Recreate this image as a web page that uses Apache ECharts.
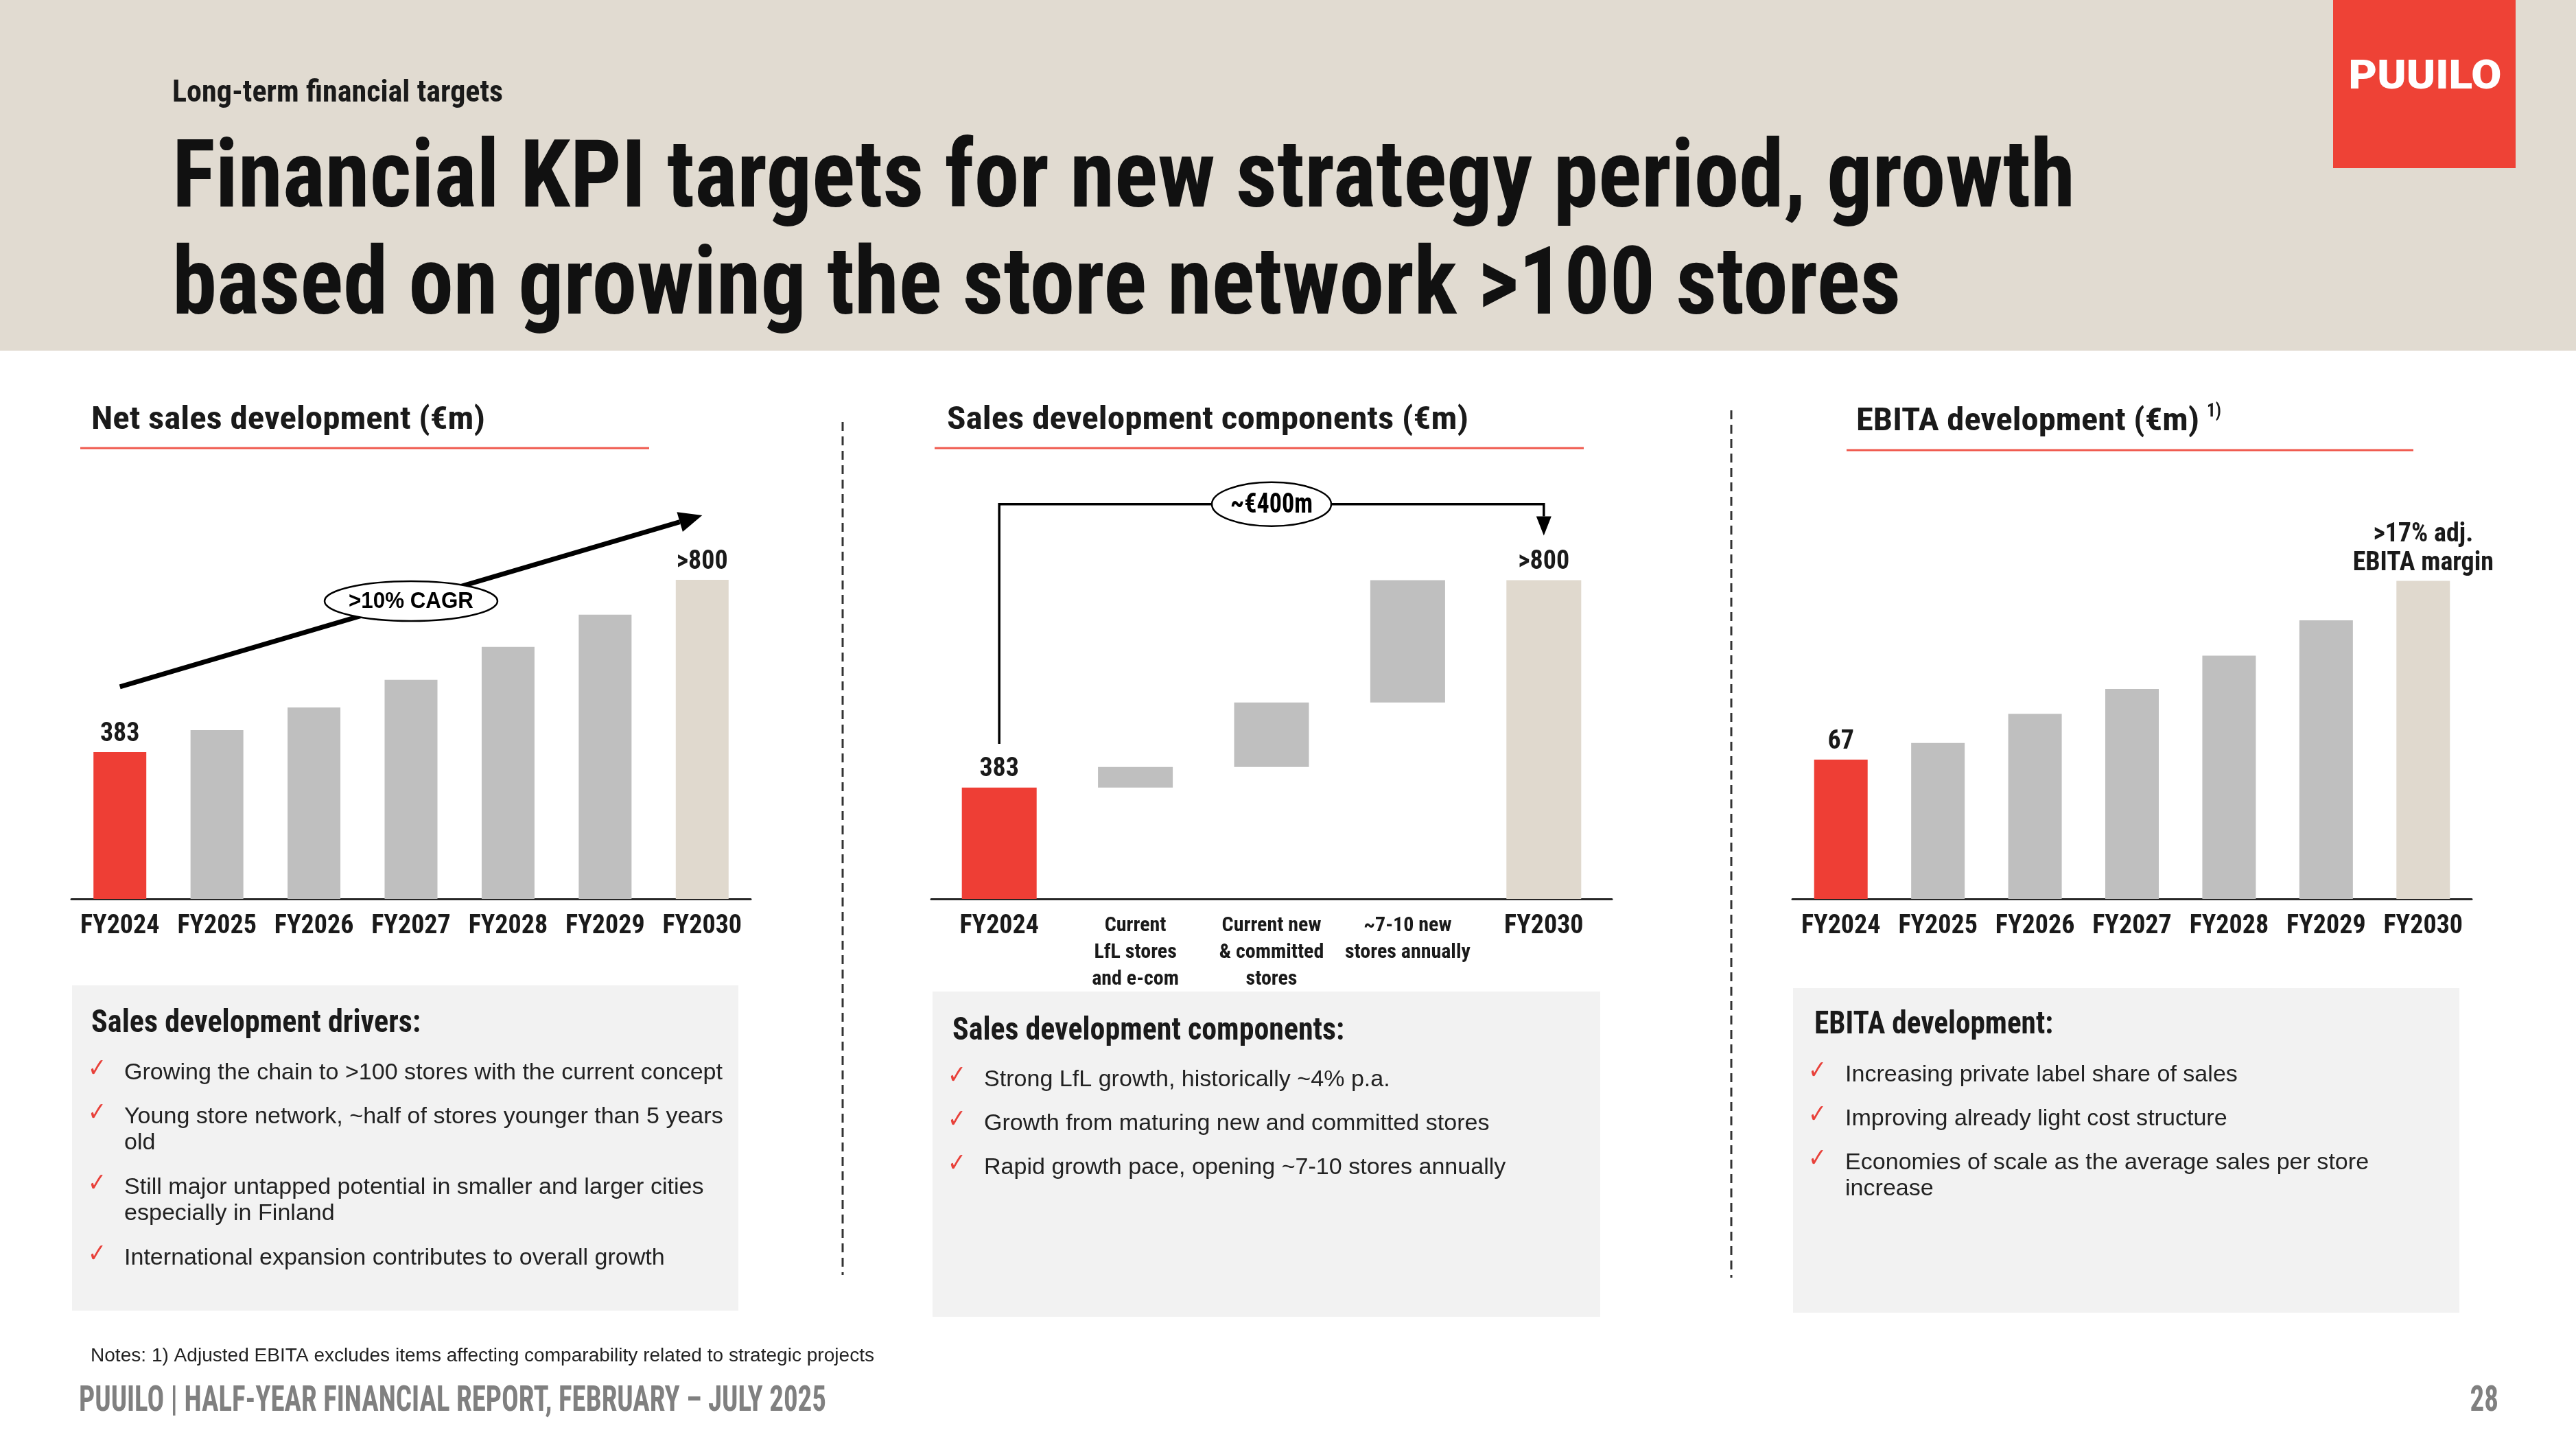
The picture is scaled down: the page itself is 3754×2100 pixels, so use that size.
<!DOCTYPE html>
<html>
<head>
<meta charset="utf-8">
<title>Financial KPI targets</title>
<script src="https://cdn.jsdelivr.net/npm/echarts@6.0.0/dist/echarts.min.js"></script>
<style>
  html, body { margin: 0; padding: 0; background: #fff; }
  #chart { width: 3754px; height: 2100px; }
</style>
</head>
<body>
<div id="chart"></div>
<script>
// --- data ---------------------------------------------------------------
const years = ['FY2024', 'FY2025', 'FY2026', 'FY2027', 'FY2028', 'FY2029', 'FY2030'];
const netSales = [383, 440, 499, 571, 657, 741, 832];
const netSalesLabels = ['383', '', '', '', '', '', '>800'];

const bridgeCats = ['FY2024', 'Current\nLfL stores\nand e-com', 'Current new\n& committed\nstores', '~7-10 new\nstores annually', 'FY2030'];
const bridgeValues = [383, 71, 222, 421, 1097];
const bridgeLabels = ['383', '', '', '', '>800'];

const ebita = [67, 75, 89, 101, 117, 134, 153];
const ebitaLabels = ['67', '', '', '', '', '', '>17% adj.\nEBITA margin'];

const cagrText = '>10% CAGR';
const bridgeText = '~€400m';

const driverBullets = [
    'Growing the chain to >100 stores with the current concept',
    'Young store network, ~half of stores younger than 5 years\nold',
    'Still major untapped potential in smaller and larger cities\nespecially in Finland',
    'International expansion contributes to overall growth'
];
const componentBullets = [
    'Strong LfL growth, historically ~4% p.a.',
    'Growth from maturing new and committed stores',
    'Rapid growth pace, opening ~7-10 stores annually'
];
const ebitaBullets = [
    'Increasing private label share of sales',
    'Improving already light cost structure',
    'Economies of scale as the average sales per store\nincrease'
];

// --- fonts --------------------------------------------------------------
const mctx = document.createElement('canvas').getContext('2d');
function hasFont(name) {
    const probe = 'abcdefghijklmnopqrstuvwxyz FY2024 0123456789';
    mctx.font = '40px monospace';
    const a = mctx.measureText(probe).width;
    mctx.font = '40px "' + name + '", monospace';
    return mctx.measureText(probe).width !== a;
}
const COND = ['Roboto Condensed', 'Liberation Sans Narrow', 'DejaVu Sans Condensed'].find(hasFont) || 'Roboto';
const bold = (s) => 'bold ' + s + 'px "' + COND + '"';
const reg = (s) => s + 'px "Liberation Sans"';

function fitScale(text, font, width) {
    mctx.font = font;
    const w = Math.max.apply(null, String(text).split('\n').map(l => mctx.measureText(l).width));
    return width / w;
}

function txt(x, y, text, font, fill, opt) {
    opt = opt || {};
    const align = opt.align || 'left';
    const va = opt.va || 'middle';
    const style = { text: text, font: font, fill: fill, align: align, verticalAlign: va, textAlign: align, textVerticalAlign: va };
    if (opt.lineHeight) style.lineHeight = opt.lineHeight;
    return {
        type: 'text', x: x, y: y, z: 20,
        scaleX: opt.width ? fitScale(text, font, opt.width) : (opt.scaleX || 1),
        style: style
    };
}

// --- colours ------------------------------------------------------------
const RED = '#EE3E35';
const GRAY = '#BFBFBF';
const BEIGE = '#E0D9CE';
const INK = '#1A1A1A';

function colorAt(i, n) {
    if (i === 0) return RED;
    if (i === n - 1) return BEIGE;
    return GRAY;
}

const bridgeBase = bridgeValues.map((v, i) =>
    (i === 0 || i === bridgeValues.length - 1) ? 0 : bridgeValues.slice(0, i).reduce((a, b) => a + b, 0));

// --- chart --------------------------------------------------------------
const chart = echarts.init(document.getElementById('chart'), null, { renderer: 'canvas' });

const axisLabel = {
    color: INK, fontFamily: COND, fontWeight: 'bold', fontSize: 38, lineHeight: 40, margin: 20, interval: 0
};
const barLabel = (labels) => ({
    show: true, position: 'top', distance: 4, color: INK,
    fontFamily: COND, fontWeight: 'bold', fontSize: 38, lineHeight: 42,
    formatter: (p) => labels[p.dataIndex]
});
const xAxisOf = (gi, data) => ({
    type: 'category', gridIndex: gi, data: data,
    axisLine: { lineStyle: { color: '#262626', width: 3 } },
    axisTick: { show: false },
    axisLabel: axisLabel
});
const yAxisOf = (gi, max) => ({
    type: 'value', gridIndex: gi, min: 0, max: max, show: false, splitLine: { show: false }
});

chart.setOption({
    backgroundColor: '#ffffff',
    animation: false,
    grid: [
        { left: 104, top: 751, width: 990, height: 559 },
        { left: 1357, top: 802, width: 992, height: 508 },
        { left: 2612, top: 704, width: 990, height: 606 }
    ],
    xAxis: [
        xAxisOf(0, years),
        xAxisOf(1, bridgeCats.map(c => c.indexOf('\n') >= 0
            ? { value: c, textStyle: { fontSize: 30, lineHeight: 39 } } : c)),
        xAxisOf(2, years)
    ],
    yAxis: [yAxisOf(0, 1000), yAxisOf(1, 1200), yAxisOf(2, 200)],
    series: [
        {
            type: 'bar', xAxisIndex: 0, yAxisIndex: 0, barWidth: 77,
            data: netSales.map((v, i) => ({ value: v, itemStyle: { color: colorAt(i, netSales.length) } })),
            label: barLabel(netSalesLabels)
        },
        {
            type: 'bar', xAxisIndex: 1, yAxisIndex: 1, barWidth: 109, stack: 'bridge', silent: true,
            itemStyle: { color: 'rgba(0,0,0,0)' },
            data: bridgeBase
        },
        {
            type: 'bar', xAxisIndex: 1, yAxisIndex: 1, barWidth: 109, stack: 'bridge',
            data: bridgeValues.map((v, i) => ({ value: v, itemStyle: { color: colorAt(i, bridgeValues.length) } })),
            label: Object.assign(barLabel(bridgeLabels), { distance: 5 })
        },
        {
            type: 'bar', xAxisIndex: 2, yAxisIndex: 2, barWidth: 78,
            data: ebita.map((v, i) => ({ value: v, itemStyle: { color: colorAt(i, ebita.length) } })),
            label: barLabel(ebitaLabels)
        }
    ]
});

// --- annotations and slide text -----------------------------------------
const px = (gi, cat, v) => chart.convertToPixel({ gridIndex: gi }, [cat, v]);

const g = [];
// header band and logo
g.push({ type: 'rect', shape: { x: 0, y: 0, width: 3754, height: 511 }, style: { fill: '#E1DBD1' } });
g.push({ type: 'rect', shape: { x: 3400, y: 0, width: 266, height: 245 }, style: { fill: '#EE4236' } });
g.push(txt(3534, 114, 'PUUILO', '900 60px Roboto', '#ffffff', { align: 'center', width: 223 }));
g.push(txt(251, 137, 'Long-term financial targets', bold(44), INK, { width: 482 }));
g.push(txt(251, 266, 'Financial KPI targets for new strategy period, growth', bold(138), '#111111', { width: 2773 }));
g.push(txt(251, 422, 'based on growing the store network >100 stores', bold(138), '#111111', { width: 2519 }));

// panel titles with red rules
g.push(txt(133, 613, 'Net sales development (€m)', bold(47), INK, { width: 574 }));
g.push(txt(1380, 613, 'Sales development components (€m)', bold(47), INK, { width: 760 }));
g.push(txt(2705, 615, 'EBITA development (€m)', bold(47), INK, { width: 500 }));
g.push(txt(3216, 600, '1)', bold(27), INK, { width: 21 }));
const rule = (x1, x2, y) => ({ type: 'line', shape: { x1: x1, y1: y, x2: x2, y2: y }, style: { stroke: '#F05A4F', lineWidth: 3 } });
g.push(rule(117, 946, 653), rule(1362, 2308, 653), rule(2691, 3517, 656));

// dashed separators
const dash = (x, y1, y2) => ({ type: 'line', shape: { x1: x, y1: y1, x2: x, y2: y2 }, style: { stroke: '#333333', lineWidth: 3, lineDash: [13, 8] } });
g.push(dash(1228, 615, 1858), dash(2523, 598, 1862));

// grey text boxes
const box = (x, y, w, h) => ({ type: 'rect', shape: { x: x, y: y, width: w, height: h }, style: { fill: '#F2F2F2' } });
g.push(box(105, 1436, 971, 474), box(1359, 1445, 973, 474), box(2613, 1440, 971, 473));

g.push(txt(133, 1492, 'Sales development drivers:', bold(46), INK, { width: 480 }));
g.push(txt(1388, 1503, 'Sales development components:', bold(46), INK, { width: 571 }));
g.push(txt(2644, 1494, 'EBITA development:', bold(46), INK, { width: 348 }));

const bulletScale = fitScale(driverBullets[0], reg(34), 872);
function bullets(list, checkX, textX, y0) {
    let y = y0;
    list.forEach(t => {
        g.push(txt(checkX, y - 4, '✓', '38px "DejaVu Sans"', '#E8413A', { scaleX: 0.85 }));
        g.push(txt(textX, y - 18, t, reg(34), '#222222', { va: 'top', lineHeight: 38, scaleX: bulletScale }));
        y += 64 + 39 * (t.split('\n').length - 1);
    });
}
bullets(driverBullets, 128, 181, 1563);
bullets(componentBullets, 1381, 1434, 1573);
bullets(ebitaBullets, 2635, 2689, 1566);

// footer
g.push(txt(132, 1977, 'Notes: 1) Adjusted EBITA excludes items affecting comparability related to strategic projects', reg(27), '#222222', { width: 1142 }));
const footerText = 'PUUILO | HALF-YEAR FINANCIAL REPORT, FEBRUARY – JULY 2025';
const footerScale = fitScale(footerText, bold(51), 1089);
g.push(txt(115, 2043, footerText, bold(51), '#808080', { scaleX: footerScale }));
g.push(txt(3641, 2043, '28', bold(51), '#808080', { align: 'right', scaleX: footerScale }));

// CAGR arrow over net sales
(function () {
    const a = px(0, 0, 553);
    const b = px(0, years.length - 1, 1000);
    const dx = b[0] - a[0], dy = b[1] - a[1];
    const len = Math.sqrt(dx * dx + dy * dy);
    const ux = dx / len, uy = dy / len;
    const headL = 34, headW = 15;
    const base = [b[0] - ux * headL, b[1] - uy * headL];
    g.push({ type: 'line', z: 15, shape: { x1: a[0], y1: a[1], x2: base[0], y2: base[1] }, style: { stroke: '#000', lineWidth: 7 } });
    g.push({ type: 'polygon', z: 15, shape: { points: [b, [base[0] - uy * headW, base[1] + ux * headW], [base[0] + uy * headW, base[1] - ux * headW]] }, style: { fill: '#000' } });
    const m = [(a[0] + b[0]) / 2, (a[1] + b[1]) / 2];
    g.push({ type: 'ellipse', z: 16, shape: { cx: m[0], cy: m[1], rx: 126, ry: 29 }, style: { fill: '#fff', stroke: '#000', lineWidth: 2.5 } });
    g.push(Object.assign(txt(m[0], m[1] + 1, cagrText, 'bold 33px "Liberation Sans"', '#000', { align: 'center', width: 182 }), { z: 17 }));
})();

// bracket over the bridge
(function () {
    const last = bridgeCats.length - 1;
    const s = px(1, 0, 534);
    const tl = px(1, 0, 1359);
    const tr = px(1, last, 1359);
    const tip = px(1, last, 1251);
    const headL = 28, headW = 11;
    g.push({ type: 'polyline', z: 15, shape: { points: [s, tl, tr, [tr[0], tip[1] - headL]] }, style: { stroke: '#000', lineWidth: 3.5, fill: null } });
    g.push({ type: 'polygon', z: 15, shape: { points: [tip, [tip[0] - headW, tip[1] - headL], [tip[0] + headW, tip[1] - headL]] }, style: { fill: '#000' } });
    const c = px(1, 2, 1359);
    g.push({ type: 'ellipse', z: 16, shape: { cx: c[0], cy: c[1], rx: 87, ry: 32 }, style: { fill: '#fff', stroke: '#000', lineWidth: 2.5 } });
    g.push(Object.assign(txt(c[0], c[1] + 2, bridgeText, bold(40), '#000', { align: 'center', width: 120 }), { z: 17 }));
})();

chart.setOption({ graphic: { elements: g } });
</script>
</body>
</html>
